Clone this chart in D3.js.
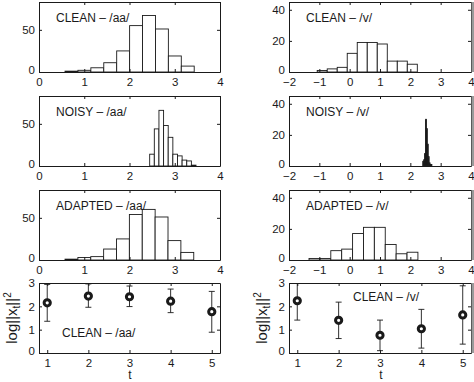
<!DOCTYPE html>
<html>
<head>
<meta charset="utf-8">
<script src="https://cdn.jsdelivr.net/npm/d3@7"></script>
<style>
  body { margin: 0; background: #fff; }
  svg { display: block; }
  text { font-family: "Liberation Sans", Arial, Helvetica, sans-serif; }
</style>
</head>
<body>
<svg id="chart" width="474" height="382"></svg>
<script>
// histograms: 10 equal bins between range[0] and range[1]
const cleanAaRange = [0.575, 3.43];
const cleanAaCounts = [1, 2, 5, 11, 25, 55, 67, 51, 19, 7];
const noisyAaRange = [2.446, 3.47];
const noisyAaCounts = [14, 44, 66, 48, 34, 14, 12, 7, 6, 1];
const adaptedAaRange = [0.575, 3.42];
const adaptedAaCounts = [1, 3, 4, 13, 25, 54, 60, 51, 23, 9];

const cleanVRange = [-1.07, 2.23];
const cleanVCounts = [1, 2, 3, 12, 19, 19, 18, 7, 7, 5];
const noisyVRange = [2.41, 2.71];
const noisyVCounts = [3, 4, 8, 30, 24, 14, 6, 2, 1, 1];
const adaptedVRange = [-1.34, 2.25];
const adaptedVCounts = [1, 1, 6, 7, 17, 21, 21, 10, 4, 5];

// error bar panels
const tValues = [1, 2, 3, 4, 5];
const cleanAaMean = [2.15, 2.44, 2.41, 2.22, 1.77];
const cleanAaUpper = [2.94, 2.96, 2.87, 2.74, 2.64];
const cleanAaLower = [1.36, 1.96, 1.99, 1.73, 0.89];
const cleanVMean = [2.24, 1.40, 0.76, 1.04, 1.63];
const cleanVUpper = [3.0, 2.18, 1.41, 1.87, 2.88];
const cleanVLower = [1.41, 0.62, 0.10, 0.21, 0.38];

// ticks
const aaXTicks = [0, 1, 2, 3, 4];
const aaYTicks = [0, 50];
const vXTicks = [-2, -1, 0, 1, 2, 3, 4];
const vYTicks = [0, 20, 40];
const tTicks = [1, 2, 3, 4, 5];
const logTicks = [0, 1, 2, 3];

const svg = d3.select("#chart");
const ink = "#1a1a1a";

const cols = { left: [39, 220], right: [289, 471] };
const rows = [[2, 72], [96, 166], [190, 260], [283, 353]];

function makePanel(col, row, xDom, yDom, xTicks, yTicks) {
  const [x0, x1] = cols[col];
  const [y0, y1] = rows[row];
  const x = d3.scaleLinear().domain(xDom).range([x0, x1]);
  const y = d3.scaleLinear().domain(yDom).range([y1, y0]);
  const g = svg.append("g");
  const marks = g.append("g");

  const axes = [
    [d3.axisBottom(x).tickValues(xTicks).tickFormat(d3.format("d")), `translate(0,${y1})`],
    [d3.axisTop(x).tickValues(xTicks).tickFormat(""), `translate(0,${y0})`],
    [d3.axisLeft(y).tickValues(yTicks).tickFormat(d3.format("d")), `translate(${x0},0)`],
    [d3.axisRight(y).tickValues(yTicks).tickFormat(""), `translate(${x1},0)`],
  ];
  axes.forEach(([ax, tr], i) => {
    const a = g.append("g").attr("transform", tr)
      .call(ax.tickSizeInner(-3).tickSizeOuter(0).tickPadding(i === 0 ? 6 : 4));
    a.selectAll("path, line").attr("stroke", ink).attr("stroke-width", 1);
    a.selectAll("text").attr("font-size", 11.5).attr("fill", ink)
      .attr("font-family", "Liberation Sans, Arial, sans-serif");
    // lowest y label sits a touch high, as in the original
    if (i === 2) a.selectAll("text").filter(d => d === 0).attr("dy", "0.1em");
  });
  return { g, marks, x, y };
}

function histogram(p, range, counts, label) {
  const w = (range[1] - range[0]) / counts.length;
  p.marks.selectAll("rect").data(counts).join("rect")
    .attr("x", (d, i) => p.x(range[0] + i * w))
    .attr("width", (d, i) => p.x(range[0] + (i + 1) * w) - p.x(range[0] + i * w))
    .attr("y", d => p.y(d))
    .attr("height", d => p.y(0) - p.y(d))
    .attr("fill", () => (p.x(range[0] + w) - p.x(range[0]) < 3 ? ink : "#fff"))
    .attr("stroke", ink)
    .attr("stroke-width", 0.9);
  p.g.append("text")
    .attr("x", p.x.range()[0] + 17)
    .attr("y", p.y.range()[1] + 20)
    .attr("font-size", 12)
    .attr("fill", ink)
    .text(label);
}

function errorPanel(p, mean, upper, lower, label, lx, ly) {
  const clip = "clip" + Math.round(p.x.range()[0]);
  svg.append("clipPath").attr("id", clip).append("rect")
    .attr("x", p.x.range()[0]).attr("y", p.y.range()[1])
    .attr("width", p.x.range()[1] - p.x.range()[0])
    .attr("height", p.y.range()[0] - p.y.range()[1]);
  const m = p.marks.attr("clip-path", `url(#${clip})`);
  const pts = tValues.map((t, i) => ({ t, m: mean[i], hi: upper[i], lo: lower[i] }));
  m.selectAll("line.bar").data(pts).join("line").attr("class", "bar")
    .attr("x1", d => p.x(d.t)).attr("x2", d => p.x(d.t))
    .attr("y1", d => p.y(d.lo)).attr("y2", d => p.y(d.hi))
    .attr("stroke", ink).attr("stroke-width", 0.9);
  ["hi", "lo"].forEach(k => {
    m.selectAll("line.cap" + k).data(pts).join("line").attr("class", "cap" + k)
      .attr("x1", d => p.x(d.t) - 3).attr("x2", d => p.x(d.t) + 3)
      .attr("y1", d => p.y(d[k])).attr("y2", d => p.y(d[k]))
      .attr("stroke", ink).attr("stroke-width", 0.9);
  });
  m.selectAll("circle").data(pts).join("circle")
    .attr("cx", d => p.x(d.t)).attr("cy", d => p.y(d.m))
    .attr("r", 3.1).attr("fill", "#fff")
    .attr("stroke", ink).attr("stroke-width", 3);
  p.g.append("text").attr("x", lx).attr("y", ly)
    .attr("font-size", 12).attr("fill", ink).text(label);
}

function yLabel(x, y) {
  const t = svg.append("text")
    .attr("transform", `translate(${x},${y}) rotate(-90)`)
    .attr("text-anchor", "middle")
    .attr("font-size", 15).attr("fill", ink);
  t.append("tspan").text("log||x");
  t.append("tspan").attr("font-size", 10).attr("dy", 3).text("t");
  t.append("tspan").attr("dy", -3).text("||");
  t.append("tspan").attr("font-size", 10).attr("dy", -6).text("2");
}

function xLabel(x, y) {
  svg.append("text").attr("x", x).attr("y", y)
    .attr("text-anchor", "middle").attr("font-size", 12)
    .attr("fill", ink).text("t");
}

// left column: /aa/
histogram(makePanel("left", 0, [0, 4], [0, 83], aaXTicks, aaYTicks), cleanAaRange, cleanAaCounts, "CLEAN – /aa/");
histogram(makePanel("left", 1, [0, 4], [0, 83], aaXTicks, aaYTicks), noisyAaRange, noisyAaCounts, "NOISY – /aa/");
histogram(makePanel("left", 2, [0, 4], [0, 83], aaXTicks, aaYTicks), adaptedAaRange, adaptedAaCounts, "ADAPTED – /aa/");
errorPanel(makePanel("left", 3, [0.8, 5.2], [0, 3], tTicks, logTicks),
  cleanAaMean, cleanAaUpper, cleanAaLower, "CLEAN – /aa/", 62, 337);

// right column: /v/
histogram(makePanel("right", 0, [-2, 4], [0, 45], vXTicks, vYTicks), cleanVRange, cleanVCounts, "CLEAN – /v/");
histogram(makePanel("right", 1, [-2, 4], [0, 45], vXTicks, vYTicks), noisyVRange, noisyVCounts, "NOISY – /v/");
histogram(makePanel("right", 2, [-2, 4], [0, 45], vXTicks, vYTicks), adaptedVRange, adaptedVCounts, "ADAPTED – /v/");
errorPanel(makePanel("right", 3, [0.8, 5.2], [0, 3], tTicks, logTicks),
  cleanVMean, cleanVUpper, cleanVLower, "CLEAN – /v/", 353, 301);

yLabel(17, 318);
yLabel(267, 318);
xLabel(130, 379);
xLabel(381, 379);

// greyish right edge seen on the right-hand frames
rows.forEach(([y0, y1]) => {
  svg.append("rect").attr("x", 471.5).attr("y", y0).attr("width", 2.5)
    .attr("height", y1 - y0).attr("fill", "#9a9a9a");
});
</script>
</body>
</html>
